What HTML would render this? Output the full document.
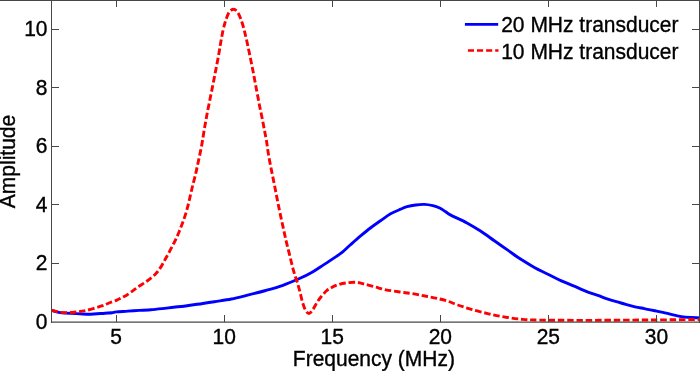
<!DOCTYPE html>
<html><head><meta charset="utf-8"><style>
html,body{margin:0;padding:0;background:#fff;}
body{width:700px;height:371px;overflow:hidden;}
svg{display:block;}
text{font-family:"Liberation Sans",Arial,Helvetica,sans-serif;font-size:21px;fill:#000;stroke:#000;stroke-width:0.35px;}
</style></head><body>
<svg width="700" height="371" viewBox="0 0 700 371">
<rect width="700" height="371" fill="#fff"/>
<g fill="none" stroke-linejoin="round">
<path d="M51.5 310.3C52.2 310.5 54.5 311.2 56.0 311.6C57.5 312.0 57.9 312.3 60.3 312.6C62.7 312.9 67.3 313.2 70.6 313.4C73.9 313.6 77.3 313.8 80.0 313.9C82.7 314.0 84.0 314.2 86.8 314.2C89.6 314.2 94.1 313.9 97.1 313.7C100.1 313.5 102.5 313.4 105.0 313.2C107.5 313.0 110.0 312.9 111.9 312.7C113.8 312.5 113.7 312.2 116.4 311.9C119.1 311.6 124.1 311.4 127.9 311.1C131.7 310.9 135.5 310.6 139.3 310.4C143.1 310.2 146.9 310.0 150.7 309.7C154.5 309.4 158.3 309.0 162.1 308.6C165.9 308.2 170.0 307.6 173.6 307.2C177.2 306.8 180.0 306.7 183.9 306.2C187.8 305.7 192.0 305.1 197.1 304.3C202.2 303.6 208.6 302.6 214.3 301.7C220.0 300.8 225.7 300.1 231.4 299.0C237.1 297.9 242.9 296.3 248.6 294.9C254.3 293.5 260.0 292.1 265.7 290.5C271.4 288.9 277.2 287.3 282.9 285.3C288.6 283.3 295.1 280.5 300.0 278.3C304.9 276.1 308.1 274.5 312.1 272.2C316.2 269.9 320.2 267.0 324.3 264.4C328.4 261.8 333.3 258.5 336.4 256.4C339.5 254.3 340.7 253.5 343.0 251.6C345.3 249.7 347.3 247.6 350.2 245.0C353.1 242.4 356.9 238.9 360.3 236.1C363.7 233.3 367.0 230.6 370.4 228.0C373.8 225.4 377.1 223.2 380.5 220.8C383.9 218.4 387.2 215.7 390.6 213.8C394.0 211.9 397.9 210.4 400.7 209.2C403.4 208.0 404.6 207.4 407.1 206.7C409.6 206.0 412.8 205.4 415.7 205.0C418.6 204.6 421.4 204.3 424.3 204.4C427.2 204.5 430.2 205.0 432.8 205.6C435.4 206.2 437.6 207.0 439.7 208.0C441.8 209.0 443.8 210.5 445.7 211.7C447.6 212.9 447.2 213.2 450.8 215.1C454.4 217.0 462.1 220.2 467.0 222.9C471.9 225.6 476.0 228.1 480.5 231.0C485.0 233.9 489.5 237.3 494.0 240.5C498.5 243.7 502.9 246.8 507.4 249.9C511.9 253.0 516.4 256.4 520.9 259.3C525.4 262.2 529.9 264.9 534.4 267.4C538.9 269.9 543.4 271.9 547.9 274.2C552.4 276.4 556.4 278.6 561.4 280.9C566.4 283.1 573.1 285.8 577.6 287.7C582.1 289.6 585.2 291.0 588.6 292.3C592.0 293.6 594.8 294.3 597.9 295.4C601.0 296.5 604.0 297.8 607.1 298.8C610.2 299.8 613.3 300.7 616.4 301.6C619.5 302.5 622.6 303.5 625.7 304.4C628.8 305.3 631.9 306.1 635.0 306.8C638.1 307.5 641.2 308.0 644.3 308.6C647.4 309.2 650.5 309.9 653.6 310.5C656.7 311.1 659.8 311.6 662.9 312.3C666.0 313.0 669.0 313.9 672.1 314.6C675.2 315.3 678.3 316.1 681.4 316.6C684.5 317.1 687.6 317.3 690.7 317.5C693.8 317.7 698.5 317.8 700.0 317.9" stroke="#0000ff" stroke-width="2.9"/>
<path d="M51.5 310.3C52.2 310.5 54.5 311.1 56.0 311.4C57.5 311.7 58.6 312.1 60.3 312.3C62.0 312.5 64.0 312.6 66.0 312.6C68.0 312.6 70.0 312.6 72.0 312.5C74.0 312.4 76.0 312.1 78.0 311.8C80.0 311.5 81.5 311.4 84.0 310.9C86.5 310.4 89.9 309.6 93.0 308.7C96.1 307.8 99.8 306.6 102.5 305.6C105.2 304.7 106.7 303.9 109.0 303.0C111.3 302.1 114.3 301.2 116.4 300.3C118.5 299.4 119.7 298.7 121.5 297.8C123.3 296.9 125.1 296.1 127.0 294.9C128.9 293.7 131.2 292.0 133.1 290.6C135.0 289.2 136.5 288.0 138.5 286.6C140.5 285.2 143.2 283.7 145.2 282.3C147.2 280.9 148.9 279.7 150.6 278.3C152.3 276.9 154.0 275.6 155.3 274.2C156.7 272.8 157.6 271.8 158.7 270.2C159.8 268.6 161.0 266.8 162.1 264.9C163.2 263.0 164.3 261.0 165.4 259.0C166.5 257.0 167.6 255.0 168.8 252.8C170.0 250.6 171.4 248.0 172.6 245.6C173.8 243.2 175.1 241.0 176.2 238.6C177.3 236.2 178.3 233.7 179.4 231.0C180.5 228.3 181.6 225.6 182.7 222.6C183.8 219.6 184.9 216.5 185.9 213.2C186.9 209.9 187.8 206.4 188.6 203.0C189.4 199.6 190.2 196.2 190.9 193.0C191.7 189.8 192.3 187.0 193.1 184.0C193.8 181.0 194.7 177.9 195.4 175.0C196.1 172.1 196.7 169.2 197.3 166.3C197.9 163.4 198.6 160.4 199.2 157.5C199.8 154.6 200.4 151.7 201.0 148.8C201.6 145.9 202.0 143.6 202.6 140.0C203.2 136.4 204.0 130.9 204.7 127.0C205.4 123.1 205.9 120.4 206.6 116.5C207.3 112.6 208.2 108.0 209.1 103.7C209.9 99.4 210.8 95.2 211.7 90.9C212.5 86.6 213.4 82.4 214.2 78.1C215.0 73.8 215.9 69.5 216.7 65.3C217.5 61.1 218.3 56.9 219.0 53.0C219.7 49.1 220.2 45.7 220.8 42.0C221.5 38.3 222.2 34.4 222.9 31.0C223.7 27.6 224.4 24.6 225.3 21.8C226.2 19.0 227.2 15.9 228.2 14.0C229.1 12.1 230.1 11.2 231.0 10.4C231.9 9.6 232.9 9.3 233.8 9.3C234.7 9.3 235.5 9.9 236.3 10.6C237.1 11.3 237.8 12.4 238.5 13.7C239.2 15.0 239.9 16.6 240.6 18.5C241.3 20.4 242.1 22.7 242.8 25.0C243.5 27.3 244.2 30.0 244.8 32.5C245.4 35.0 245.8 36.6 246.6 40.0C247.3 43.4 248.4 48.5 249.3 52.8C250.2 57.1 251.1 61.3 251.9 65.6C252.8 69.9 253.6 74.1 254.4 78.4C255.2 82.7 256.0 87.0 256.8 91.2C257.6 95.5 258.4 99.6 259.2 103.9C260.0 108.2 261.0 112.6 261.9 117.0C262.8 121.4 263.7 126.5 264.5 130.5C265.3 134.5 265.8 137.0 266.5 141.0C267.2 145.0 267.7 149.9 268.5 154.6C269.3 159.3 270.3 164.4 271.3 169.4C272.3 174.4 273.3 179.4 274.3 184.3C275.3 189.2 276.2 194.2 277.2 199.1C278.2 204.0 279.1 208.9 280.2 213.9C281.2 218.9 282.5 224.3 283.5 229.0C284.5 233.7 285.4 237.9 286.4 242.1C287.4 246.3 288.4 250.2 289.4 254.2C290.4 258.2 291.4 262.4 292.3 266.0C293.2 269.6 294.1 272.7 295.0 275.5C295.9 278.3 296.7 280.2 297.5 283.0C298.3 285.8 299.1 288.6 300.0 292.0C300.9 295.4 301.8 300.2 302.8 303.3C303.8 306.4 304.7 309.1 305.8 310.8C306.9 312.5 308.1 313.6 309.3 313.4C310.5 313.2 311.6 311.3 312.9 309.5C314.2 307.7 315.6 304.7 316.9 302.6C318.2 300.5 319.3 298.9 320.9 297.0C322.5 295.1 324.5 292.6 326.3 291.0C328.1 289.4 329.7 288.6 331.7 287.5C333.7 286.4 335.9 285.4 338.4 284.6C340.9 283.8 343.5 283.3 346.5 282.9C349.5 282.5 353.2 282.1 356.3 282.3C359.4 282.5 361.8 283.4 365.0 284.2C368.2 285.0 372.0 286.2 375.5 287.1C379.0 288.0 381.9 289.0 386.0 289.8C390.1 290.6 395.9 291.4 400.0 292.0C404.1 292.6 407.1 292.9 410.6 293.4C414.1 293.9 417.9 294.6 421.0 295.2C424.1 295.8 426.3 296.3 429.0 296.8C431.7 297.3 434.0 297.7 437.1 298.4C440.2 299.1 444.0 299.9 447.4 301.0C450.8 302.1 453.7 303.6 457.7 305.0C461.7 306.4 466.2 307.9 471.4 309.4C476.5 310.9 482.9 312.5 488.6 313.8C494.3 315.1 500.0 316.3 505.7 317.2C511.4 318.1 517.5 318.9 522.9 319.4C528.3 319.9 532.1 320.0 538.3 320.1C544.5 320.2 549.7 320.3 560.0 320.3C570.3 320.3 585.0 320.4 600.0 320.3C615.0 320.2 633.3 320.1 650.0 320.0C666.7 319.9 691.7 319.5 700.0 319.4" stroke="#ff0000" stroke-width="2.9" stroke-dasharray="6.5 2.8"/>
</g>
<g stroke="#474747" stroke-width="1" fill="none" shape-rendering="crispEdges">
<line x1="0" y1="0.5" x2="700" y2="0.5" shape-rendering="crispEdges"/>
<line x1="51.5" y1="0" x2="51.5" y2="323" shape-rendering="crispEdges"/>
<line x1="699.5" y1="0" x2="699.5" y2="323" shape-rendering="crispEdges"/>
<line x1="51" y1="322" x2="700" y2="322" stroke-width="1.25" shape-rendering="auto"/>
<line x1="116.50" y1="322" x2="116.50" y2="315"/><line x1="116.50" y1="0" x2="116.50" y2="7"/><line x1="224.50" y1="322" x2="224.50" y2="315"/><line x1="224.50" y1="0" x2="224.50" y2="7"/><line x1="332.50" y1="322" x2="332.50" y2="315"/><line x1="332.50" y1="0" x2="332.50" y2="7"/><line x1="440.50" y1="322" x2="440.50" y2="315"/><line x1="440.50" y1="0" x2="440.50" y2="7"/><line x1="548.50" y1="322" x2="548.50" y2="315"/><line x1="548.50" y1="0" x2="548.50" y2="7"/><line x1="656.50" y1="322" x2="656.50" y2="315"/><line x1="656.50" y1="0" x2="656.50" y2="7"/><line x1="51" y1="263.50" x2="58.5" y2="263.50"/><line x1="699" y1="263.50" x2="691.8" y2="263.50"/><line x1="51" y1="204.50" x2="58.5" y2="204.50"/><line x1="699" y1="204.50" x2="691.8" y2="204.50"/><line x1="51" y1="146.50" x2="58.5" y2="146.50"/><line x1="699" y1="146.50" x2="691.8" y2="146.50"/><line x1="51" y1="87.50" x2="58.5" y2="87.50"/><line x1="699" y1="87.50" x2="691.8" y2="87.50"/><line x1="51" y1="29.50" x2="58.5" y2="29.50"/><line x1="699" y1="29.50" x2="691.8" y2="29.50"/>
</g>
<g>
<text transform="translate(116.17 343.80) scale(1 1.045)" text-anchor="middle">5</text><text transform="translate(224.22 343.80) scale(1 1.045)" text-anchor="middle">10</text><text transform="translate(332.27 343.80) scale(1 1.045)" text-anchor="middle">15</text><text transform="translate(440.32 343.80) scale(1 1.045)" text-anchor="middle">20</text><text transform="translate(548.37 343.80) scale(1 1.045)" text-anchor="middle">25</text><text transform="translate(656.42 343.80) scale(1 1.045)" text-anchor="middle">30</text><text transform="translate(47.50 328.60) scale(1 1.045)" text-anchor="end">0</text><text transform="translate(47.50 270.20) scale(1 1.045)" text-anchor="end">2</text><text transform="translate(47.50 211.80) scale(1 1.045)" text-anchor="end">4</text><text transform="translate(47.50 153.20) scale(1 1.045)" text-anchor="end">6</text><text transform="translate(47.50 94.60) scale(1 1.045)" text-anchor="end">8</text><text transform="translate(47.50 36.30) scale(1 1.045)" text-anchor="end">10</text>
<text transform="translate(373.90 365.80) scale(1 1.045)" text-anchor="middle">Frequency (MHz)</text>
<text transform="translate(15.20 161.50) rotate(-90) scale(1 1.045)" text-anchor="middle">Amplitude</text>
</g>
<line x1="464.9" y1="24.3" x2="498.2" y2="24.3" stroke="#0000ff" stroke-width="2.8"/>
<line x1="467.9" y1="50.5" x2="498.5" y2="50.5" stroke="#ff0000" stroke-width="2.6" stroke-dasharray="6.1 3"/>
<text transform="translate(501.20 31.80) scale(1 1.045)">20 MHz transducer</text>
<text transform="translate(501.20 58.80) scale(1 1.045)">10 MHz transducer</text>
</svg>
</body></html>
